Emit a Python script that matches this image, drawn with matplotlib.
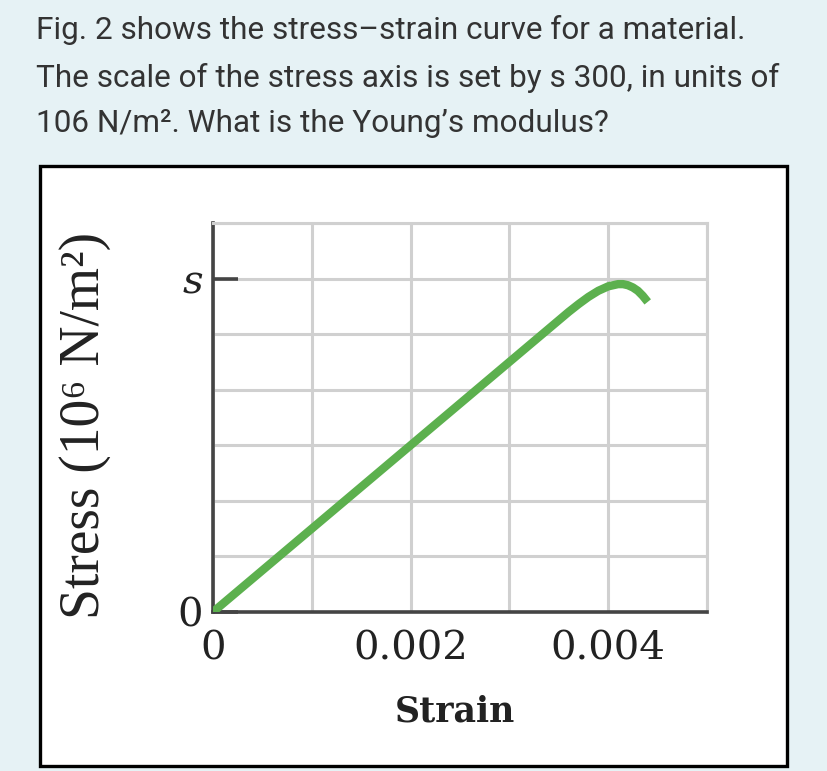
import numpy as np
import matplotlib.pyplot as plt
from matplotlib.patches import Rectangle

# values (stress in units of 10^6 N/m^2, s = 300)
strain = [0.0, 0.001, 0.002, 0.003, 0.0036, 0.0037, 0.0038, 0.0039, 0.0040,
          0.0041, 0.00415, 0.0042, 0.00425, 0.0043, 0.00435, 0.0044]
stress = [0, 75, 150, 225, 270, 277, 283.5, 289, 293,
          295, 295, 294, 292, 289, 284.5, 279]

xticks = [0, 0.002, 0.004]
xticklabels = ['0', '0.002', '0.004']
yticks = [0, 300]
yticklabels = ['0', 's']
xgrid = [0, 0.001, 0.002, 0.003, 0.004, 0.005]
ygrid = [0, 50, 100, 150, 200, 250, 300, 350]

question = ['Fig. 2 shows the stress\u2013strain curve for a material.',
            'The scale of the stress axis is set by s 300, in units of',
            '106 N/m\u00b2. What is the Young\u2019s modulus?']

bg = '#e6f2f5'
W, H = 827, 771
fig = plt.figure(figsize=(W/100, H/100), dpi=100, facecolor=bg)

for txt, yb in zip(question, [39, 87, 132]):
    fig.text(36/W, 1 - yb/H, txt, fontsize=22.7, family='Roboto',
             color='#333333', va='baseline')

fig.add_artist(Rectangle((39.5/W, 1 - 766/H), (787 - 39.5)/W, (766 - 165.5)/H,
                         transform=fig.transFigure, facecolor='white',
                         edgecolor='black', lw=2.4, zorder=0))

ax = fig.add_axes([213/W, 1 - 612/H, (707 - 213)/W, (612 - 223)/H])
ax.set_facecolor('white')
ax.set_xlim(0, 0.005)
ax.set_ylim(0, 350)

ax.set_xticks(xgrid, minor=True)
ax.set_yticks(ygrid, minor=True)
ax.set_xticks(xticks, xticklabels)
ax.set_yticks(yticks, yticklabels)
ax.grid(which='both', color='#d0d0d0', lw=2.2)
ax.set_axisbelow(True)

ax.tick_params(which='minor', length=0)
ax.tick_params(axis='x', which='major', length=0, pad=13, labelsize=29,
               labelcolor='#222222')
ax.tick_params(axis='y', which='major', direction='in', length=18, width=2.6,
               color='#444444', pad=7, labelsize=29, labelcolor='#222222')
for lab in ax.get_xticklabels() + ax.get_yticklabels():
    lab.set_family('DejaVu Serif')
ax.get_yticklabels()[1].set_fontstyle('italic')

for side in ['left', 'bottom']:
    ax.spines[side].set_color('#444444')
    ax.spines[side].set_linewidth(2.6)
for side in ['top', 'right']:
    ax.spines[side].set_color('#d0d0d0')
    ax.spines[side].set_linewidth(2.2)

ax.plot(strain, stress, color='#5cb04e', lw=6, solid_capstyle='butt',
        solid_joinstyle='round', zorder=3)

fig.text(455/W, 1 - 721/H, 'Strain', family='DejaVu Serif', weight='bold',
         fontsize=25, ha='center', va='baseline', color='#222222')
fig.text(85/W, 1 - 425/H, 'Stress (10\u2076 N/m\u00b2)', rotation=90,
         family='Liberation Serif', fontsize=40, ha='center', va='center',
         color='#222222')

plt.savefig('out.png', dpi=100, facecolor=bg)
plt.close()
